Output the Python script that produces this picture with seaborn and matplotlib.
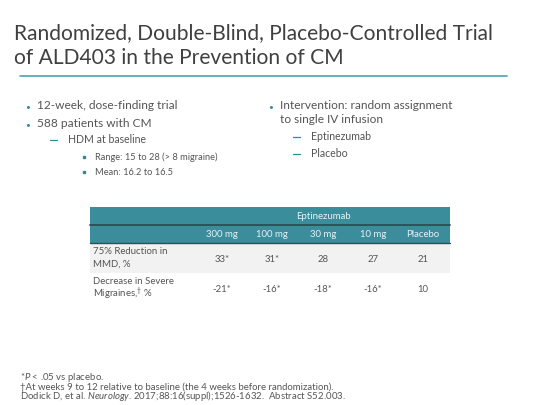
import matplotlib
matplotlib.use("Agg")
import matplotlib.pyplot as plt
import seaborn as sns
import pandas as pd
from matplotlib.patches import Rectangle

# ---- data ----
title_lines = ["Randomized, Double-Blind, Placebo-Controlled Trial",
               "of ALD403 in the Prevention of CM"]
left_bullets = [(0, "12-week, dose-finding trial"),
                (0, "588 patients with CM"),
                (1, "HDM at baseline"),
                (2, "Range: 15 to 28 (> 8 migraine)"),
                (2, "Mean: 16.2 to 16.5")]
right_bullets = [(0, "Intervention: random assignment"),
                 (-1, "to single IV infusion"),
                 (1, "Eptinezumab"),
                 (1, "Placebo")]
group_label = "Eptinezumab"
dose_labels = ["300 mg", "100 mg", "30 mg", "10 mg", "Placebo"]
row_labels = [["75% Reduction in", "MMD, %"],
              ["Decrease in Severe", "Migraines,$^{\u2020}$ %"]]
row1_values = ["33*", "31*", "28", "27", "21"]
row2_values = ["-21*", "-16*", "-18*", "-16*", "10"]
footnotes = ["*$P$ < .05 vs placebo.",
             "\u2020At weeks 9 to 12 relative to baseline (the 4 weeks before randomization).",
             "Dodick D, et al. $Neurology$. 2017;88:16(suppl);1526-1632.  Abstract S52.003."]

sns.set_theme(style="white")
plt.rcParams['font.family'] = ['Lato', 'DejaVu Sans']
plt.rcParams['mathtext.fontset'] = 'custom'
plt.rcParams['mathtext.rm'] = 'Lato'
plt.rcParams['mathtext.it'] = 'Lato:italic'

fig = plt.figure(figsize=(5.4, 4.05), dpi=100)
ax = fig.add_axes([0, 0, 1, 1])
ax.set_xlim(0, 540)
ax.set_ylim(405, 0)
ax.axis("off")

TXT = "#555555"
TEAL = "#3a8e9c"

# title
for i, t in enumerate(title_lines):
    ax.text(14, 39 + i * 25, t, fontsize=15.1, color="#404040", va="baseline", ha="left")
ax.plot([20, 507], [76, 76], color="#4aa3b2", lw=1.2)

# bullets
def draw_bullets(items, x0, baselines):
    for (lvl, txt), yb in zip(items, baselines):
        if lvl == 0:
            ax.text(x0, yb, "\u2022", fontsize=6, color="#2c8c99", va="baseline")
            ax.text(x0 + 12, yb, txt, fontsize=8.6, color=TXT, va="baseline")
        elif lvl == -1:
            ax.text(x0 + 12, yb, txt, fontsize=8.6, color=TXT, va="baseline")
        elif lvl == 1:
            ax.plot([x0 + 25, x0 + 32], [yb - 3, yb - 3], color="#2c8c99", lw=0.9)
            ax.text(x0 + 43, yb, txt, fontsize=7.6, color=TXT, va="baseline")
        else:
            ax.add_patch(Rectangle((x0 + 58, yb - 4), 2.2, 2.2, color="#2c8c99"))
            ax.text(x0 + 70, yb, txt, fontsize=6.7, color=TXT, va="baseline")

draw_bullets(left_bullets, 25, [109, 127, 143, 160, 175])
draw_bullets(right_bullets, 268, [109, 123, 140, 157])

# table
tx0, tx1 = 90, 450
ax.add_patch(Rectangle((tx0, 207), tx1 - tx0, 36, color=TEAL, lw=0))
ax.plot([tx0, tx1], [225, 225], color="#2f4d55", lw=1.3)
ax.plot([tx0, tx1], [243, 243], color="#2f4d55", lw=1.0)
ax.add_patch(Rectangle((tx0, 243.5), tx1 - tx0, 29.5, color="#f2f2f2", lw=0))

col_x = [222, 272, 323, 373, 423]
ax.text(323, 219, group_label, fontsize=6.9, color="#e6f2f3", ha="center", va="baseline")
for x, lab in zip(col_x, dose_labels):
    ax.text(x, 237, lab, fontsize=6.9, color="#e6f2f3", ha="center", va="baseline")

df = pd.DataFrame([row1_values, row2_values], columns=dose_labels)
row_base = [(254, 267, 262), (284, 297, 292)]
for r, (lab, (b1, b2, bv)) in enumerate(zip(row_labels, row_base)):
    ax.text(93, b1, lab[0], fontsize=6.9, color=TXT, va="baseline")
    ax.text(93, b2, lab[1], fontsize=6.9, color=TXT, va="baseline")
    for x, c in zip(col_x, df.columns):
        ax.text(x, bv, df.loc[r, c], fontsize=6.9, color=TXT, ha="center", va="baseline")

# footnotes
ax.text(20, 399, "\n".join(footnotes), fontsize=6.9, color=TXT, va="baseline",
        linespacing=0.74)

fig.savefig("out.png", dpi=100)
